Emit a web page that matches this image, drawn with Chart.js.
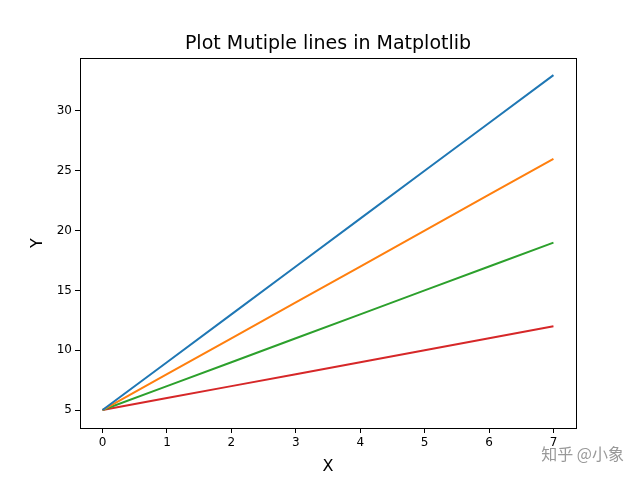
<!DOCTYPE html>
<html>
<head>
<meta charset="utf-8">
<script src="https://cdn.jsdelivr.net/npm/chart.js@4/dist/chart.umd.min.js"></script>
<style>
  body { margin: 0; background: #fff; }
</style>
</head>
<body>
<canvas id="c" width="640" height="480"></canvas>
<script>
const xValues = [0, 1, 2, 3, 4, 5, 6, 7];
const blueY = [5, 9, 13, 17, 21, 25, 29, 33];
const orangeY = [5, 8, 11, 14, 17, 20, 23, 26];
const greenY = [5, 7, 9, 11, 13, 15, 17, 19];
const redY = [5, 6, 7, 8, 9, 10, 11, 12];
const colors = ['#1f77b4', '#ff7f0e', '#2ca02c', '#d62728'];

const toPts = ys => ys.map((y, i) => ({ x: xValues[i], y: y }));

const extras = {
    id: 'extras',
    afterDraw(chart) {
        const ctx = chart.ctx;
        const a = chart.chartArea;
        ctx.save();
        ctx.strokeStyle = '#000';
        ctx.lineWidth = 1;
        ctx.strokeRect(a.left + 0.5, a.top + 0.5, a.right - a.left, a.bottom - a.top);
        ctx.fillStyle = '#000';
        ctx.font = '19px "DejaVu Sans"';
        ctx.textAlign = 'center';
        ctx.textBaseline = 'alphabetic';
        ctx.fillText('Plot Mutiple lines in Matplotlib', (a.left + a.right) / 2, 49);
        ctx.fillStyle = '#999';
        ctx.font = '16px "Noto Sans CJK SC"';
        ctx.textAlign = 'right';
        ctx.fillText('知乎 @小象', 624, 460);
        ctx.restore();
    }
};

new Chart(document.getElementById('c'), {
    type: 'line',
    data: {
        datasets: [blueY, orangeY, greenY, redY].map((ys, i) => ({
            data: toPts(ys),
            borderColor: colors[i],
            borderWidth: 2,
            pointRadius: 0,
            tension: 0
        }))
    },
    options: {
        responsive: false,
        devicePixelRatio: 1,
        animation: false,
        layout: { padding: { top: 58, right: 64, left: 24, bottom: 0 } },
        plugins: { legend: { display: false }, tooltip: { enabled: false } },
        scales: {
            x: {
                type: 'linear', min: -0.35, max: 7.35,
                afterFit(s) { s.height = 52; },
                afterBuildTicks(s) { s.ticks = xValues.map(v => ({ value: v })); },
                grid: { drawOnChartArea: false, tickLength: 5, color: '#000' },
                border: { color: '#000' },
                ticks: { color: '#000', font: { family: 'DejaVu Sans', size: 12 }, padding: 3 },
                title: { display: true, text: 'X', color: '#000', font: { family: 'DejaVu Sans', size: 16 }, padding: { top: 4 } }
            },
            y: {
                min: 3.5, max: 34.43,
                afterFit(s) { s.width = 56; },
                afterBuildTicks(s) { s.ticks = [5, 10, 15, 20, 25, 30].map(v => ({ value: v })); },
                grid: { drawOnChartArea: false, tickLength: 5, color: '#000' },
                border: { color: '#000' },
                ticks: { color: '#000', font: { family: 'DejaVu Sans', size: 12 }, padding: 3 },
                title: { display: true, text: 'Y', color: '#000', font: { family: 'DejaVu Sans', size: 16 }, padding: { bottom: 4 } }
            }
        }
    },
    plugins: [extras]
});
</script>
</body>
</html>
